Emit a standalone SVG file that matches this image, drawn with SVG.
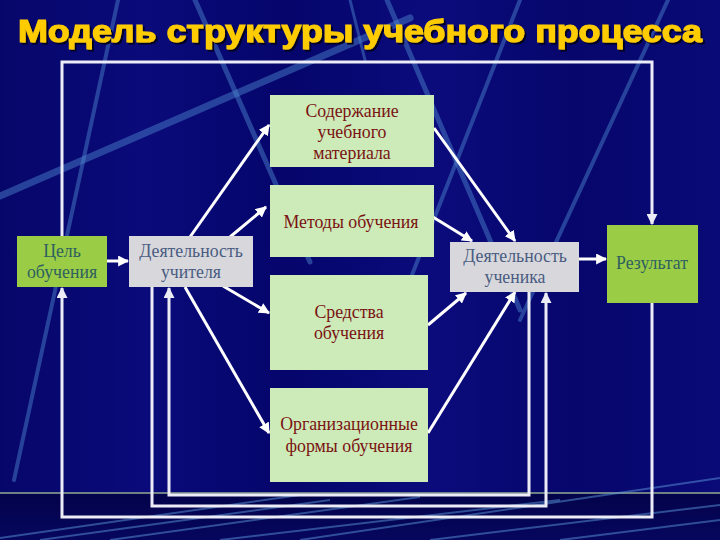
<svg xmlns="http://www.w3.org/2000/svg" width="720" height="540" viewBox="0 0 720 540">
<defs>
<linearGradient id="bg" x1="0" y1="0" x2="1" y2="0">
<stop offset="0" stop-color="#06066a"/>
<stop offset="0.2" stop-color="#0a0a7a"/>
<stop offset="0.4" stop-color="#05056c"/>
<stop offset="0.6" stop-color="#0b0b7c"/>
<stop offset="0.8" stop-color="#06066c"/>
<stop offset="1" stop-color="#0a0a78"/>
</linearGradient>
<linearGradient id="floor" x1="0" y1="0" x2="0" y2="1">
<stop offset="0" stop-color="#03034a"/>
<stop offset="1" stop-color="#06065e"/>
</linearGradient>
<filter id="sh" x="-5%" y="-20%" width="110%" height="150%">
<feDropShadow dx="2" dy="2" stdDeviation="0.6" flood-color="#000022" flood-opacity="1"/>
</filter>
<marker id="ah" viewBox="0 0 10 10" refX="9" refY="5" markerWidth="11" markerHeight="11" markerUnits="userSpaceOnUse" orient="auto">
<path d="M0,0 L10,5 L0,10 z" fill="#ffffff"/>
</marker>
<marker id="ah2" viewBox="0 0 10 10" refX="9" refY="5" markerWidth="11" markerHeight="11" markerUnits="userSpaceOnUse" orient="auto">
<path d="M0,0 L10,5 L0,10 z" fill="#ececf6"/>
</marker>
</defs>
<style>
.streak{stroke:#4f8cd0;stroke-opacity:0.45;stroke-linecap:round;fill:none}
.fs{stroke:#5a96d8;stroke-opacity:0.5;stroke-width:2;fill:none}
.arr{stroke:#ffffff;stroke-width:3;fill:none;marker-end:url(#ah)}
.loopa{stroke:#ececf6;stroke-width:3;fill:none;marker-end:url(#ah2)}
.lg{fill:#cdebb8}
.gr{fill:#d8d8dc}
.gn{fill:#9acd45}
.t{font-size:17.8px;text-anchor:middle}
.tr{fill:#7a1212}
.tb{fill:#4a5c82}
.tg{fill:#2f5f60}
</style>
<rect width="720" height="540" fill="url(#bg)"/>
<rect y="493" width="720" height="47" fill="url(#floor)"/>
<g id="background">
<line class="streak" stroke-width="7" x1="0" y1="196" x2="410" y2="18"/>
<line class="streak" stroke-width="4" x1="118" y1="0" x2="14" y2="480"/>
<line class="streak" stroke-width="5" x1="195" y1="0" x2="310" y2="262"/>
<line class="streak" stroke-width="5" x1="387" y1="0" x2="520" y2="310"/>
<line class="streak" stroke-width="4" x1="520" y1="0" x2="410" y2="280"/>
<line class="streak" stroke-width="4" x1="668" y1="0" x2="520" y2="320"/>
<line class="streak" stroke-width="3" x1="350" y1="0" x2="365" y2="60"/>
<line x1="0" y1="493" x2="720" y2="493" stroke="#8aa090" stroke-width="2" stroke-opacity="0.8"/>
<line class="fs" x1="0" y1="538" x2="300" y2="495"/>
<line class="fs" x1="40" y1="540" x2="330" y2="500"/>
<line class="fs" x1="110" y1="540" x2="420" y2="497"/>
<line class="fs" x1="220" y1="540" x2="560" y2="500"/>
<line class="fs" x1="300" y1="540" x2="720" y2="478"/>
<line class="fs" x1="430" y1="540" x2="720" y2="505"/>
<line class="fs" x1="560" y1="540" x2="720" y2="520"/>
</g>
<g id="title">
<text x="360" y="42" font-family="'Liberation Sans',Arial,sans-serif" font-size="32" font-weight="bold" text-anchor="middle" fill="#ffcc00" textLength="684" lengthAdjust="spacingAndGlyphs" stroke="#ffcc00" stroke-width="1.2" filter="url(#sh)">Модель структуры учебного процесса</text>
</g>
<g id="connectors">
<polyline class="loopa" points="62,236 62,62 652,62 652,224"/>
<polyline class="loopa" points="652,303 652,517 62,517 62,288"/>
<polyline class="loopa" points="152,287 152,506 546,506 546,293"/>
<polyline class="loopa" points="529,292 529,495 169,495 169,288"/>
<line class="arr" x1="107" y1="261" x2="128" y2="261"/>
<line class="arr" x1="579" y1="259" x2="606" y2="259"/>
<line class="arr" x1="190" y1="237" x2="269" y2="125"/>
<line class="arr" x1="230" y1="237" x2="266" y2="207"/>
<line class="arr" x1="223" y1="286" x2="269" y2="313"/>
<line class="arr" x1="185" y1="287" x2="269" y2="433"/>
<line class="arr" x1="434" y1="128" x2="515" y2="241"/>
<line class="arr" x1="428" y1="214" x2="472" y2="241"/>
<line class="arr" x1="428" y1="325" x2="466" y2="293"/>
<line class="arr" x1="428" y1="433" x2="515" y2="292"/>
</g>
<g id="goal" font-family="'Liberation Serif','Times New Roman','DejaVu Serif',serif">
<rect class="gn" x="17" y="236" width="90" height="51"/>
<text class="t tg" x="62" y="257">Цель</text>
<text class="t tg" x="62" y="278">обучения</text>
</g>
<g id="teacher" font-family="'Liberation Serif','Times New Roman','DejaVu Serif',serif">
<rect class="gr" x="129" y="236" width="124" height="51"/>
<text class="t tb" x="191" y="257">Деятельность</text>
<text class="t tb" x="191" y="278">учителя</text>
</g>
<g id="content" font-family="'Liberation Serif','Times New Roman','DejaVu Serif',serif">
<rect class="lg" x="270" y="95" width="164" height="72"/>
<text class="t tr" x="352" y="117">Содержание</text>
<text class="t tr" x="352" y="138">учебного</text>
<text class="t tr" x="352" y="159">материала</text>
</g>
<g id="methods" font-family="'Liberation Serif','Times New Roman','DejaVu Serif',serif">
<rect class="lg" x="270" y="185" width="164" height="72"/>
<text class="t tr" x="351" y="228">Методы обучения</text>
</g>
<g id="means" font-family="'Liberation Serif','Times New Roman','DejaVu Serif',serif">
<rect class="lg" x="270" y="275" width="158" height="95"/>
<text class="t tr" x="349" y="318">Средства</text>
<text class="t tr" x="349" y="339">обучения</text>
</g>
<g id="forms" font-family="'Liberation Serif','Times New Roman','DejaVu Serif',serif">
<rect class="lg" x="270" y="388" width="158" height="94"/>
<text class="t tr" x="349" y="430">Организационные</text>
<text class="t tr" x="349" y="452">формы обучения</text>
</g>
<g id="student" font-family="'Liberation Serif','Times New Roman','DejaVu Serif',serif">
<rect class="gr" x="450" y="242" width="129" height="50"/>
<text class="t tb" x="515" y="262">Деятельность</text>
<text class="t tb" x="515" y="283">ученика</text>
</g>
<g id="result" font-family="'Liberation Serif','Times New Roman','DejaVu Serif',serif">
<rect class="gn" x="607" y="225" width="91" height="78"/>
<text class="t tg" x="652" y="269">Результат</text>
</g>
</svg>
